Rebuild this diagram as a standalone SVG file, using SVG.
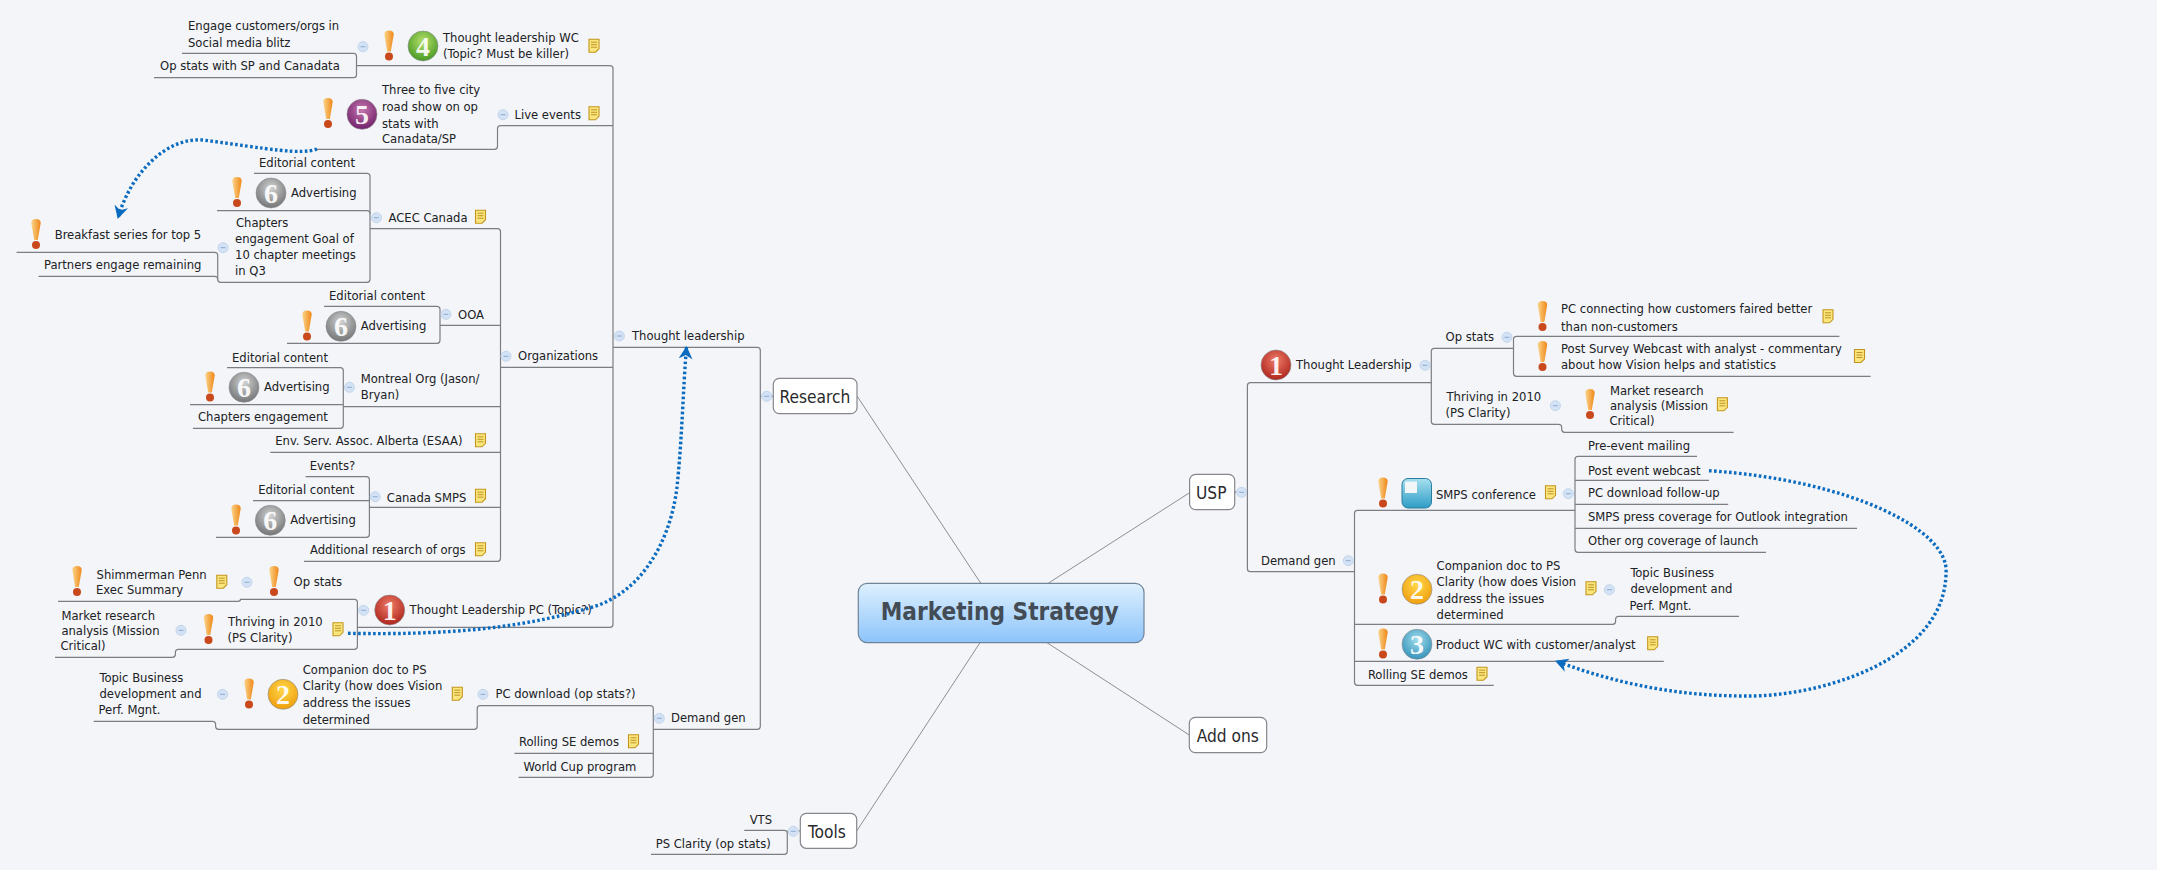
<svg xmlns="http://www.w3.org/2000/svg" xmlns:xlink="http://www.w3.org/1999/xlink" width="2157" height="870" viewBox="0 0 2157 870">
<style>
text{font-family:"DejaVu Sans Condensed","DejaVu Sans",sans-serif;font-stretch:condensed;font-size:12.9px;fill:#202124}
.big{font-size:17.2px;fill:#2a2a2c}
.title{font-family:"DejaVu Sans",sans-serif;font-stretch:normal;font-weight:700;font-size:24px;fill:#434b55}
.num{font-family:"Liberation Serif",serif;font-stretch:normal;font-weight:700;font-size:28px;fill:#fff;fill-opacity:.92;text-anchor:middle}
.c{fill:none;stroke:#7c7e83;stroke-width:1.2}
.l{fill:none;stroke:#8d8f93;stroke-width:1}
.rel{fill:none;stroke:#0b6cbf;stroke-width:3.4;stroke-dasharray:2.6 2.4}
.box{fill:#fff;stroke:#85878c;stroke-width:1.2}
.ring{stroke:#8a8c90;stroke-opacity:.6;stroke-width:1}
</style>
<defs>
<linearGradient id="gc" x1="0" y1="0" x2="0" y2="1"><stop offset="0" stop-color="#def0fe"/><stop offset="1" stop-color="#8cc4fa"/></linearGradient>
<linearGradient id="ge" x1="0" y1="0" x2="1" y2="0"><stop offset="0" stop-color="#fbd488"/><stop offset="1" stop-color="#ef8718"/></linearGradient>
<radialGradient id="r1" cx=".5" cy=".35" r=".7"><stop offset="0" stop-color="#ee7c68"/><stop offset="1" stop-color="#a91e16"/></radialGradient>
<radialGradient id="r2" cx=".5" cy=".35" r=".7"><stop offset="0" stop-color="#ffd84a"/><stop offset="1" stop-color="#ee9a08"/></radialGradient>
<radialGradient id="r3" cx=".5" cy=".35" r=".7"><stop offset="0" stop-color="#9edcec"/><stop offset="1" stop-color="#2f8db5"/></radialGradient>
<radialGradient id="r4" cx=".5" cy=".35" r=".7"><stop offset="0" stop-color="#b6e06a"/><stop offset="1" stop-color="#3f9420"/></radialGradient>
<radialGradient id="r5" cx=".5" cy=".35" r=".7"><stop offset="0" stop-color="#c678ae"/><stop offset="1" stop-color="#6b1a66"/></radialGradient>
<radialGradient id="r6" cx=".5" cy=".35" r=".7"><stop offset="0" stop-color="#d2d3d3"/><stop offset="1" stop-color="#6c6e6f"/></radialGradient>
<linearGradient id="gs" x1="0" y1="0" x2="0" y2="1"><stop offset="0" stop-color="#a6e0ef"/><stop offset="1" stop-color="#2f9cc6"/></linearGradient>
<g id="ex"><path d="M-4.7-11Q-4.7-15 0-15Q4.7-15 4.7-11L1.8 6H-1.8Z" fill="url(#ge)"/><circle cy="11" r="4" fill="#c9491c"/></g>
<g id="note"><path d="M-5-6.5H5V3L1.5 6.5H-5Z" fill="#fbe67e" stroke="#c4951d" stroke-width="1.1"/><path d="M-3-3.5H3M-3-1H3M-3 1.5H3" stroke="#b78a18" stroke-width=".9"/></g>
<g id="col"><circle r="5" fill="#d3e2f4" stroke="#c2d5ec"/><path d="M-2.5 0H2.5" stroke="#8eacd0"/></g>
<marker id="arr" markerWidth="18" markerHeight="18" refX="12" refY="7" orient="auto" markerUnits="userSpaceOnUse"><path d="M13 7L0 0L4 7L0 14Z" fill="#0b6cbf"/></marker>
</defs>
<rect width="2157" height="870" fill="#f3f5f9"/>

<g id="connectors">
<path class="l" d="M857 396L980.6 583M1189.6 492.7L1048.6 583M1189.3 735L1047 642.7M856.7 831L980 642.7"/>
<path class="c" d="M356.5 65.7H610Q613 65.7 613 68.7V624.3Q613 627.3 610 627.3H357.4"/>
<path class="c" d="M613 125.7H500.5Q497.5 125.7 497.5 128.7V146.3Q497.5 149.3 494.5 149.3H315"/>
<path class="c" d="M613 367.3H500.5"/>
<path class="c" d="M613 347.3H757.3Q760.3 347.3 760.3 350.3V726.3Q760.3 729.3 757.3 729.3H653.3"/>
<path class="c" d="M760.3 396.3H773.3"/>
<path class="c" d="M370 228.7H497.5Q500.5 228.7 500.5 231.7V558.3Q500.5 561.3 497.5 561.3H304"/>
<path class="c" d="M500.5 325.3H440M500.5 406.7H343.3M500.5 452.3H270.3M500.5 507.3H369.4"/>
<path class="c" d="M182 53.3H353.5Q356.5 53.3 356.5 56.3V74.7Q356.5 77.7 353.5 77.7H154"/>
<path class="c" d="M254 173.3H367Q370 173.3 370 176.3V279.3Q370 282.3 367 282.3H220.7Q217.7 282.3 217.7 279.3V255.3Q217.7 252.3 214.7 252.3H16.6"/>
<path class="c" d="M38.5 276.3H214.7Q217.7 276.3 217.7 279.3M217 210.7H367Q370 210.7 370 213.7"/>
<path class="c" d="M324 306.3H437Q440 306.3 440 309.3V340.3Q440 343.3 437 343.3H287"/>
<path class="c" d="M227 367.7H340.3Q343.3 367.7 343.3 370.7V425.3Q343.3 428.3 340.3 428.3H193M190 404.7H343.3"/>
<path class="c" d="M305.6 476.7H366.4Q369.4 476.7 369.4 479.7V534.3Q369.4 537.3 366.4 537.3H216M253 500.7H369.4"/>
<path class="c" d="M58 601.3H238Q240.5 601.3 240.5 599.3H354.4Q357.4 599.3 357.4 602.3V646.3Q357.4 649.3 354.4 649.3H178.4Q175.4 649.3 175.4 652.3V654.3Q175.4 657.3 172.4 657.3H55"/>
<path class="c" d="M93.7 721.3H212.6Q215.6 721.3 215.6 724.3V726.3Q215.6 729.3 218.6 729.3H474.2Q477.2 729.3 477.2 726.3V708.7Q477.2 705.7 480.2 705.7H650.3Q653.3 705.7 653.3 708.7V774.3Q653.3 777.3 650.3 777.3H518.6M514.5 753.3H653.3"/>
<path class="c" d="M744.3 830.3H784.3Q787.3 830.3 787.3 833.3V851.3Q787.3 854.3 784.3 854.3H651M787.3 831H800.3"/>
<path class="c" d="M1234.7 492H1247.4"/>
<path class="c" d="M1431.3 382.7H1250.4Q1247.4 382.7 1247.4 385.7V568.7Q1247.4 571.7 1250.4 571.7H1354.5"/>
<path class="c" d="M1839.4 336.3H1516.5Q1513.5 336.3 1513.5 339.3V373.3Q1513.5 376.3 1516.5 376.3H1870.6"/>
<path class="c" d="M1513.5 348.3H1434.3Q1431.3 348.3 1431.3 351.3V421.3Q1431.3 424.3 1434.3 424.3H1558.7Q1561.7 424.3 1561.7 427.3V429.3Q1561.7 432.3 1564.7 432.3H1733.6"/>
<path class="c" d="M1575 510.3H1357.5Q1354.5 510.3 1354.5 513.3V682.3Q1354.5 685.3 1357.5 685.3H1493.7"/>
<path class="c" d="M1697 456.3H1578Q1575 456.3 1575 459.3V549.3Q1575 552.3 1578 552.3H1766"/>
<path class="c" d="M1575 480.3H1709M1575 504.3H1728.2M1575 528.3H1857"/>
<path class="c" d="M1354.5 624.3H1612.6Q1615.6 624.3 1615.6 621.3V619.3Q1615.6 616.3 1618.6 616.3H1739"/>
<path class="c" d="M1354.5 661.3H1663.8"/>
</g>

<g id="center"><rect x="858.3" y="583.3" width="285.7" height="59.4" rx="9" fill="url(#gc)" stroke="#6f8499" stroke-width="1.2"/><text class="title" x="880.7" y="620" textLength="238" lengthAdjust="spacingAndGlyphs">Marketing Strategy</text></g>
<g id="research"><rect class="box" x="773.3" y="378.3" width="83.7" height="35.4" rx="6"/><text class="big" x="779.5" y="403">Research</text><use href="#col" x="766.7" y="396.3"/></g>
<g id="usp"><rect class="box" x="1189.6" y="474.3" width="45.1" height="35.4" rx="6"/><text class="big" x="1196" y="499">USP</text><use href="#col" x="1241.6" y="492.3"/></g>
<g id="addons"><rect class="box" x="1189.3" y="717.3" width="77.4" height="35.4" rx="6"/><text class="big" x="1196.7" y="742">Add ons</text></g>
<g id="tools"><rect class="box" x="800.3" y="813.3" width="56.4" height="35" rx="6"/><text class="big" x="808" y="838">Tools</text><use href="#col" x="793.3" y="831.3"/></g>

<g id="tl"><text x="632" y="340">Thought leadership</text><use href="#col" x="619.4" y="336"/></g>
<g id="tlwc"><use href="#ex" x="389" y="45.5"/><circle class="ring" cx="423" cy="46" r="15" fill="url(#r4)"/><text class="num" x="423" y="55.5">4</text><text x="443"><tspan x="443" y="42">Thought leadership WC</tspan><tspan x="443" y="58">(Topic? Must be killer)</tspan></text><use href="#note" x="594" y="45.7"/><use href="#col" x="363" y="46.7"/></g>
<g id="engage"><text><tspan x="188" y="30">Engage customers/orgs in</tspan><tspan x="188" y="47">Social media blitz</tspan></text></g>
<g id="opsp"><text x="160" y="70">Op stats with SP and Canadata</text></g>
<g id="live"><text x="514.5" y="119">Live events</text><use href="#note" x="594" y="113.3"/><use href="#col" x="503" y="114.7"/></g>
<g id="three"><use href="#ex" x="328" y="113"/><circle class="ring" cx="362" cy="114.3" r="15" fill="url(#r5)"/><text class="num" x="362" y="123.8">5</text><text><tspan x="382" y="94">Three to five city</tspan><tspan x="382" y="110.5">road show on op</tspan><tspan x="382" y="127.5">stats with</tspan><tspan x="382" y="142.5">Canadata/SP</tspan></text></g>
<g id="org"><text x="518" y="360">Organizations</text><use href="#col" x="506" y="356.3"/></g>
<g id="acec"><text x="388.5" y="222">ACEC Canada</text><use href="#note" x="480.5" y="216.7"/><use href="#col" x="376.5" y="217.7"/></g>
<g id="acec-ed"><text x="259" y="167">Editorial content</text></g>
<g id="acec-ad"><use href="#ex" x="237" y="192"/><circle class="ring" cx="271" cy="193" r="15" fill="url(#r6)"/><text class="num" x="271" y="202.5">6</text><text x="291" y="197">Advertising</text></g>
<g id="chapters"><text><tspan x="236" y="227">Chapters</tspan><tspan x="235" y="243">engagement Goal of</tspan><tspan x="235" y="259">10 chapter meetings</tspan><tspan x="235" y="275">in Q3</tspan></text><use href="#col" x="223" y="247.7"/></g>
<g id="breakfast"><use href="#ex" x="36" y="234"/><text x="54.7" y="239">Breakfast series for top 5</text></g>
<g id="partners"><text x="44" y="268.7">Partners engage remaining</text></g>
<g id="ooa"><text x="458" y="319">OOA</text><use href="#col" x="446" y="314.3"/></g>
<g id="ooa-ed"><text x="329" y="300">Editorial content</text></g>
<g id="ooa-ad"><use href="#ex" x="307" y="325.5"/><circle class="ring" cx="341" cy="326.3" r="15" fill="url(#r6)"/><text class="num" x="341" y="335.8">6</text><text x="360.7" y="330">Advertising</text></g>
<g id="mon"><text><tspan x="360.7" y="383">Montreal Org (Jason/</tspan><tspan x="360.7" y="399">Bryan)</tspan></text><use href="#col" x="349.5" y="387.3"/></g>
<g id="mon-ed"><text x="232" y="361.5">Editorial content</text></g>
<g id="mon-ad"><use href="#ex" x="210" y="386.5"/><circle class="ring" cx="244" cy="387.3" r="15" fill="url(#r6)"/><text class="num" x="244" y="396.8">6</text><text x="264" y="391">Advertising</text></g>
<g id="mon-ch"><text x="198" y="421">Chapters engagement</text></g>
<g id="esaa"><text x="275.3" y="445">Env. Serv. Assoc. Alberta (ESAA)</text><use href="#note" x="480.5" y="440.3"/></g>
<g id="smps"><text x="386.8" y="501.5">Canada SMPS</text><use href="#note" x="480.5" y="495.7"/><use href="#col" x="375.2" y="496.7"/></g>
<g id="events"><text x="309.7" y="470">Events?</text></g>
<g id="smps-ed"><text x="258.3" y="494">Editorial content</text></g>
<g id="smps-ad"><use href="#ex" x="236" y="519.5"/><circle class="ring" cx="270.3" cy="520.3" r="15" fill="url(#r6)"/><text class="num" x="270.3" y="529.8">6</text><text x="290.2" y="524">Advertising</text></g>
<g id="addl"><text x="310" y="554">Additional research of orgs</text><use href="#note" x="480.5" y="549.3"/></g>
<g id="tlpc"><circle class="ring" cx="389.7" cy="610" r="15" fill="url(#r1)"/><text class="num" x="389.7" y="619.5">1</text><text x="409.6" y="614">Thought Leadership PC (Topic?)</text><use href="#col" x="363.6" y="610.3"/></g>
<g id="opstats"><use href="#ex" x="274" y="581"/><text x="293.5" y="586">Op stats</text><use href="#col" x="247" y="582.3"/></g>
<g id="shim"><use href="#ex" x="77" y="581"/><text><tspan x="96.6" y="579">Shimmerman Penn</tspan><tspan x="96" y="594">Exec Summary</tspan></text><use href="#note" x="221.8" y="581.7"/></g>
<g id="thrive"><use href="#ex" x="208.5" y="629"/><text><tspan x="228" y="626">Thriving in 2010</tspan><tspan x="227.5" y="642">(PS Clarity)</tspan></text><use href="#note" x="338" y="629.3"/><use href="#col" x="181" y="630.3"/></g>
<g id="market"><text><tspan x="61.4" y="619.5">Market research</tspan><tspan x="61.4" y="634.5">analysis (Mission</tspan><tspan x="60.5" y="650">Critical)</tspan></text></g>
<g id="dg"><text x="671" y="722">Demand gen</text><use href="#col" x="659.3" y="718.3"/></g>
<g id="pcd"><text x="495.4" y="698">PC download (op stats?)</text><use href="#col" x="483" y="694.3"/></g>
<g id="comp"><use href="#ex" x="249" y="693.5"/><circle class="ring" cx="283" cy="694.3" r="15" fill="url(#r2)"/><text class="num" x="283" y="703.8">2</text><text><tspan x="302.7" y="674">Companion doc to PS</tspan><tspan x="302.7" y="690">Clarity (how does Vision</tspan><tspan x="302.7" y="707">address the issues</tspan><tspan x="302.7" y="723.5">determined</tspan></text><use href="#note" x="457.3" y="693.7"/><use href="#col" x="222.6" y="694.3"/></g>
<g id="topic"><text><tspan x="99.5" y="682">Topic Business</tspan><tspan x="99.5" y="698">development and</tspan><tspan x="98.5" y="714">Perf. Mgnt.</tspan></text></g>
<g id="roll"><text x="519" y="746">Rolling SE demos</text><use href="#note" x="633.5" y="741.3"/></g>
<g id="wc"><text x="523.6" y="770.5">World Cup program</text></g>
<g id="vts"><text x="749.7" y="824">VTS</text></g>
<g id="psc"><text x="655.7" y="847.5">PS Clarity (op stats)</text></g>

<g id="r-tl"><circle class="ring" cx="1276" cy="365" r="15" fill="url(#r1)"/><text class="num" x="1276" y="374.5">1</text><text x="1296" y="369">Thought Leadership</text><use href="#col" x="1425" y="365.3"/></g>
<g id="r-op"><text x="1445.6" y="341">Op stats</text><use href="#col" x="1507" y="337.3"/></g>
<g id="r-pc"><use href="#ex" x="1542.5" y="316"/><text><tspan x="1561" y="313">PC connecting how customers faired better</tspan><tspan x="1561" y="330.5">than non-customers</tspan></text><use href="#note" x="1828" y="316.3"/></g>
<g id="r-post"><use href="#ex" x="1542.5" y="356"/><text><tspan x="1561" y="353">Post Survey Webcast with analyst - commentary</tspan><tspan x="1561" y="369">about how Vision helps and statistics</tspan></text><use href="#note" x="1859.5" y="356"/></g>
<g id="r-thr"><text><tspan x="1446.5" y="401">Thriving in 2010</tspan><tspan x="1445.5" y="417">(PS Clarity)</tspan></text><use href="#col" x="1555.4" y="405.7"/></g>
<g id="r-mkt"><use href="#ex" x="1590" y="404"/><text><tspan x="1610" y="394.5">Market research</tspan><tspan x="1610" y="409.5">analysis (Mission</tspan><tspan x="1609.5" y="425">Critical)</tspan></text><use href="#note" x="1722.4" y="404.3"/></g>
<g id="r-dg"><text x="1261" y="564.5">Demand gen</text><use href="#col" x="1348.3" y="560.7"/></g>
<g id="r-smps"><use href="#ex" x="1383" y="492.5"/><rect x="1402" y="478.5" width="29.5" height="29.5" rx="6" fill="url(#gs)" stroke="#2a7f9f"/><path d="M1405 482.5Q1405 481.5 1406 481.5H1417V493H1405Z" fill="#f2f6f9"/><text x="1436" y="498.5">SMPS conference</text><use href="#note" x="1550.5" y="492.3"/><use href="#col" x="1568.4" y="493.7"/></g>
<g id="r-pre"><text x="1588" y="449.5">Pre-event mailing</text></g>
<g id="r-webc"><text x="1588" y="474.5">Post event webcast</text></g>
<g id="r-fol"><text x="1588" y="497">PC download follow-up</text></g>
<g id="r-press"><text x="1588" y="521">SMPS press coverage for Outlook integration</text></g>
<g id="r-other"><text x="1588" y="545">Other org coverage of launch</text></g>
<g id="r-comp"><use href="#ex" x="1383" y="588.5"/><circle class="ring" cx="1417" cy="589.3" r="15" fill="url(#r2)"/><text class="num" x="1417" y="598.8">2</text><text><tspan x="1436.6" y="569.5">Companion doc to PS</tspan><tspan x="1436.6" y="585.5">Clarity (how does Vision</tspan><tspan x="1436.6" y="602.5">address the issues</tspan><tspan x="1436.6" y="618.5">determined</tspan></text><use href="#note" x="1591" y="588.3"/><use href="#col" x="1609.4" y="589.7"/></g>
<g id="r-topic"><text><tspan x="1630.4" y="577">Topic Business</tspan><tspan x="1630.4" y="593">development and</tspan><tspan x="1629.5" y="609.5">Perf. Mgnt.</tspan></text></g>
<g id="r-prod"><use href="#ex" x="1383" y="643.5"/><circle class="ring" cx="1417" cy="644.3" r="15" fill="url(#r3)"/><text class="num" x="1417" y="653.8">3</text><text x="1435.7" y="648.5">Product WC with customer/analyst</text><use href="#note" x="1652.7" y="643.3"/></g>
<g id="r-roll"><text x="1367.9" y="678.5">Rolling SE demos</text><use href="#note" x="1482" y="673.7"/></g>

<g id="relations">
<path class="rel" marker-end="url(#arr)" d="M317 149C300 155 270 149 203 140C165 137 130 175 118 218"/>
<path class="rel" marker-end="url(#arr)" d="M348 633.3C440 635 520 630 599 605C650 585 672 530 677 487C682 440 683 390 686.5 347"/>
<path class="rel" marker-end="url(#arr)" d="M1709 470.7C1850 480 1950 530 1946 573C1945 660 1820 697 1746 696C1680 696 1620 685 1556 661"/>
</g>
</svg>
